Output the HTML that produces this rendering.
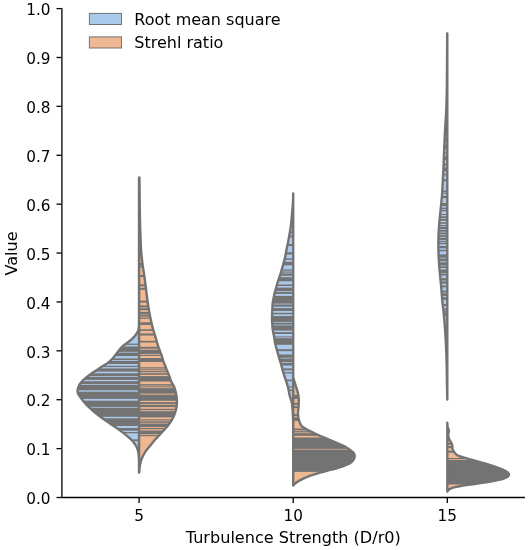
<!DOCTYPE html>
<html lang="en"><head><meta charset="utf-8"><title>Violin plot</title>
<style>html,body{margin:0;padding:0;background:#fff}body{width:529px;height:550px;overflow:hidden}svg{display:block}text{font-family:"DejaVu Sans","Liberation Sans",sans-serif;fill:#000}.t{font-size:15.28px}.l{font-size:16.1px}</style></head><body>
<svg width="529" height="550" viewBox="0 0 529 550">
<rect width="529" height="550" fill="#fff"/>
<g id="violins">
<clipPath id="c1L"><path d="M139.10,177.80 C139.10,225.20 140.78,272.60 139.10,320.00 C139.01,322.67 139.29,325.33 138.80,328.00 C138.58,329.20 138.45,330.40 137.90,331.60 C137.20,333.13 135.92,334.67 134.60,336.20 C133.62,337.33 132.59,338.47 131.30,339.60 C130.31,340.47 129.12,341.33 128.00,342.20 C126.28,343.53 124.20,344.87 122.70,346.20 C120.71,347.97 119.53,349.73 118.10,351.50 C116.67,353.27 115.65,355.03 114.10,356.80 C112.55,358.57 111.03,360.33 108.80,362.10 C106.61,363.83 103.52,365.57 100.90,367.30 C98.22,369.07 95.43,370.83 92.90,372.60 C90.37,374.37 87.78,376.13 85.70,377.90 C83.62,379.67 81.70,381.43 80.40,383.20 C79.10,384.97 78.28,386.73 77.90,388.50 C77.58,390.00 77.39,391.50 77.90,393.00 C78.20,393.87 78.78,394.73 79.30,395.60 C80.37,397.37 81.78,399.13 83.20,400.90 C84.62,402.67 86.03,404.43 87.80,406.20 C89.57,407.97 91.70,409.73 93.80,411.50 C95.90,413.27 98.08,415.03 100.40,416.80 C102.72,418.57 105.14,420.33 107.70,422.10 C110.21,423.83 113.09,425.57 115.60,427.30 C118.16,429.07 120.62,430.83 122.90,432.60 C125.18,434.37 127.32,436.13 129.30,437.90 C130.27,438.77 131.28,439.63 132.10,440.50 C132.95,441.40 133.64,442.30 134.30,443.20 C134.98,444.13 135.58,445.07 136.10,446.00 C136.66,447.00 137.13,448.00 137.50,449.00 C137.93,450.17 138.17,451.33 138.40,452.50 C138.69,454.00 138.78,455.50 138.90,457.00 C139.03,458.67 139.05,460.33 139.10,462.00 C139.19,465.47 139.10,468.93 139.10,472.40 L139.10,472.40 L139.10,177.80 Z"/></clipPath>
<path d="M139.10,177.80 C139.10,225.20 140.78,272.60 139.10,320.00 C139.01,322.67 139.29,325.33 138.80,328.00 C138.58,329.20 138.45,330.40 137.90,331.60 C137.20,333.13 135.92,334.67 134.60,336.20 C133.62,337.33 132.59,338.47 131.30,339.60 C130.31,340.47 129.12,341.33 128.00,342.20 C126.28,343.53 124.20,344.87 122.70,346.20 C120.71,347.97 119.53,349.73 118.10,351.50 C116.67,353.27 115.65,355.03 114.10,356.80 C112.55,358.57 111.03,360.33 108.80,362.10 C106.61,363.83 103.52,365.57 100.90,367.30 C98.22,369.07 95.43,370.83 92.90,372.60 C90.37,374.37 87.78,376.13 85.70,377.90 C83.62,379.67 81.70,381.43 80.40,383.20 C79.10,384.97 78.28,386.73 77.90,388.50 C77.58,390.00 77.39,391.50 77.90,393.00 C78.20,393.87 78.78,394.73 79.30,395.60 C80.37,397.37 81.78,399.13 83.20,400.90 C84.62,402.67 86.03,404.43 87.80,406.20 C89.57,407.97 91.70,409.73 93.80,411.50 C95.90,413.27 98.08,415.03 100.40,416.80 C102.72,418.57 105.14,420.33 107.70,422.10 C110.21,423.83 113.09,425.57 115.60,427.30 C118.16,429.07 120.62,430.83 122.90,432.60 C125.18,434.37 127.32,436.13 129.30,437.90 C130.27,438.77 131.28,439.63 132.10,440.50 C132.95,441.40 133.64,442.30 134.30,443.20 C134.98,444.13 135.58,445.07 136.10,446.00 C136.66,447.00 137.13,448.00 137.50,449.00 C137.93,450.17 138.17,451.33 138.40,452.50 C138.69,454.00 138.78,455.50 138.90,457.00 C139.03,458.67 139.05,460.33 139.10,462.00 C139.19,465.47 139.10,468.93 139.10,472.40 L139.10,472.40 L139.10,177.80 Z" fill="#abc9ea" stroke="none"/>
<g clip-path="url(#c1L)" fill="#737373"><rect x="69.1" y="343.60" width="70.0" height="1.30"/><rect x="69.1" y="346.50" width="70.0" height="5.35"/><rect x="69.1" y="352.65" width="70.0" height="3.45"/><rect x="69.1" y="358.40" width="70.0" height="1.70"/><rect x="69.1" y="361.00" width="70.0" height="3.00"/><rect x="69.1" y="365.80" width="70.0" height="1.30"/><rect x="69.1" y="368.40" width="70.0" height="3.20"/><rect x="69.1" y="373.30" width="70.0" height="2.75"/><rect x="69.1" y="376.85" width="70.0" height="3.05"/><rect x="69.1" y="381.20" width="70.0" height="2.80"/><rect x="69.1" y="384.80" width="70.0" height="5.50"/><rect x="69.1" y="391.70" width="70.0" height="7.20"/><rect x="69.1" y="400.70" width="70.0" height="6.20"/><rect x="69.1" y="407.70" width="70.0" height="9.10"/><rect x="69.1" y="418.30" width="70.0" height="7.70"/><rect x="69.1" y="428.00" width="70.0" height="2.70"/><rect x="69.1" y="432.00" width="70.0" height="1.30"/><rect x="69.1" y="439.40" width="70.0" height="1.70"/></g>
<path d="M139.10,177.80 C139.10,225.20 140.78,272.60 139.10,320.00 C139.01,322.67 139.29,325.33 138.80,328.00 C138.58,329.20 138.45,330.40 137.90,331.60 C137.20,333.13 135.92,334.67 134.60,336.20 C133.62,337.33 132.59,338.47 131.30,339.60 C130.31,340.47 129.12,341.33 128.00,342.20 C126.28,343.53 124.20,344.87 122.70,346.20 C120.71,347.97 119.53,349.73 118.10,351.50 C116.67,353.27 115.65,355.03 114.10,356.80 C112.55,358.57 111.03,360.33 108.80,362.10 C106.61,363.83 103.52,365.57 100.90,367.30 C98.22,369.07 95.43,370.83 92.90,372.60 C90.37,374.37 87.78,376.13 85.70,377.90 C83.62,379.67 81.70,381.43 80.40,383.20 C79.10,384.97 78.28,386.73 77.90,388.50 C77.58,390.00 77.39,391.50 77.90,393.00 C78.20,393.87 78.78,394.73 79.30,395.60 C80.37,397.37 81.78,399.13 83.20,400.90 C84.62,402.67 86.03,404.43 87.80,406.20 C89.57,407.97 91.70,409.73 93.80,411.50 C95.90,413.27 98.08,415.03 100.40,416.80 C102.72,418.57 105.14,420.33 107.70,422.10 C110.21,423.83 113.09,425.57 115.60,427.30 C118.16,429.07 120.62,430.83 122.90,432.60 C125.18,434.37 127.32,436.13 129.30,437.90 C130.27,438.77 131.28,439.63 132.10,440.50 C132.95,441.40 133.64,442.30 134.30,443.20 C134.98,444.13 135.58,445.07 136.10,446.00 C136.66,447.00 137.13,448.00 137.50,449.00 C137.93,450.17 138.17,451.33 138.40,452.50 C138.69,454.00 138.78,455.50 138.90,457.00 C139.03,458.67 139.05,460.33 139.10,462.00 C139.19,465.47 139.10,468.93 139.10,472.40 L139.10,472.40 L139.10,177.80 Z" fill="none" stroke="#737373" stroke-width="2.4" stroke-linejoin="round"/>
<clipPath id="c1R"><path d="M139.30,177.80 C139.40,185.20 139.47,192.60 139.60,200.00 C139.71,206.67 139.83,213.33 140.00,220.00 C140.17,226.67 140.31,233.33 140.60,240.00 C140.74,243.33 140.86,246.67 141.10,250.00 C141.41,254.40 141.85,258.80 142.40,263.20 C142.95,267.63 143.78,272.07 144.40,276.50 C145.01,280.90 145.53,285.30 146.10,289.70 C146.67,294.10 147.15,298.50 147.80,302.90 C148.42,307.13 149.05,311.37 149.90,315.60 C150.30,317.60 150.74,319.60 151.20,321.60 C151.70,323.80 152.20,326.00 152.80,328.20 C153.40,330.40 154.14,332.60 154.80,334.80 C155.47,337.03 156.13,339.27 156.80,341.50 C157.46,343.70 158.03,345.90 158.80,348.10 C159.57,350.30 160.63,352.50 161.40,354.70 C162.17,356.90 162.63,359.10 163.40,361.30 C164.17,363.50 165.12,365.70 166.00,367.90 C166.88,370.10 167.86,372.30 168.70,374.50 C169.56,376.73 170.08,378.97 171.10,381.20 C171.92,383.00 173.22,384.80 174.00,386.60 C174.95,388.80 175.52,391.00 176.00,393.20 C176.48,395.40 176.80,397.60 176.90,399.80 C177.00,402.03 176.92,404.27 176.60,406.50 C176.28,408.70 175.77,410.90 175.00,413.10 C174.23,415.30 173.27,417.50 172.00,419.70 C170.73,421.90 169.17,424.10 167.40,426.30 C165.63,428.50 163.43,430.70 161.40,432.90 C159.37,435.10 157.13,437.30 155.20,439.50 C153.38,441.57 151.78,443.63 150.10,445.70 C148.58,447.57 146.86,449.43 145.60,451.30 C144.32,453.20 143.35,455.10 142.50,457.00 C141.65,458.90 141.02,460.80 140.50,462.70 C139.99,464.57 139.63,466.43 139.40,468.30 C139.23,469.67 139.20,471.03 139.10,472.40 L139.10,472.40 L139.10,177.80 Z"/></clipPath>
<path d="M139.30,177.80 C139.40,185.20 139.47,192.60 139.60,200.00 C139.71,206.67 139.83,213.33 140.00,220.00 C140.17,226.67 140.31,233.33 140.60,240.00 C140.74,243.33 140.86,246.67 141.10,250.00 C141.41,254.40 141.85,258.80 142.40,263.20 C142.95,267.63 143.78,272.07 144.40,276.50 C145.01,280.90 145.53,285.30 146.10,289.70 C146.67,294.10 147.15,298.50 147.80,302.90 C148.42,307.13 149.05,311.37 149.90,315.60 C150.30,317.60 150.74,319.60 151.20,321.60 C151.70,323.80 152.20,326.00 152.80,328.20 C153.40,330.40 154.14,332.60 154.80,334.80 C155.47,337.03 156.13,339.27 156.80,341.50 C157.46,343.70 158.03,345.90 158.80,348.10 C159.57,350.30 160.63,352.50 161.40,354.70 C162.17,356.90 162.63,359.10 163.40,361.30 C164.17,363.50 165.12,365.70 166.00,367.90 C166.88,370.10 167.86,372.30 168.70,374.50 C169.56,376.73 170.08,378.97 171.10,381.20 C171.92,383.00 173.22,384.80 174.00,386.60 C174.95,388.80 175.52,391.00 176.00,393.20 C176.48,395.40 176.80,397.60 176.90,399.80 C177.00,402.03 176.92,404.27 176.60,406.50 C176.28,408.70 175.77,410.90 175.00,413.10 C174.23,415.30 173.27,417.50 172.00,419.70 C170.73,421.90 169.17,424.10 167.40,426.30 C165.63,428.50 163.43,430.70 161.40,432.90 C159.37,435.10 157.13,437.30 155.20,439.50 C153.38,441.57 151.78,443.63 150.10,445.70 C148.58,447.57 146.86,449.43 145.60,451.30 C144.32,453.20 143.35,455.10 142.50,457.00 C141.65,458.90 141.02,460.80 140.50,462.70 C139.99,464.57 139.63,466.43 139.40,468.30 C139.23,469.67 139.20,471.03 139.10,472.40 L139.10,472.40 L139.10,177.80 Z" fill="#efb792" stroke="none"/>
<g clip-path="url(#c1R)" fill="#737373"><rect x="139.1" y="263.00" width="70.0" height="2.00"/><rect x="139.1" y="265.50" width="70.0" height="2.00"/><rect x="139.1" y="275.00" width="70.0" height="2.00"/><rect x="139.1" y="284.30" width="70.0" height="2.00"/><rect x="139.1" y="287.80" width="70.0" height="2.00"/><rect x="139.1" y="300.60" width="70.0" height="2.00"/><rect x="139.1" y="305.40" width="70.0" height="2.00"/><rect x="139.1" y="308.20" width="70.0" height="2.00"/><rect x="139.1" y="311.90" width="70.0" height="2.00"/><rect x="139.1" y="314.50" width="70.0" height="2.00"/><rect x="139.1" y="317.40" width="70.0" height="1.30"/><rect x="139.1" y="322.30" width="70.0" height="2.60"/><rect x="139.1" y="329.30" width="70.0" height="1.60"/><rect x="139.1" y="333.50" width="70.0" height="2.00"/><rect x="139.1" y="340.80" width="70.0" height="1.70"/><rect x="139.1" y="346.80" width="70.0" height="1.90"/><rect x="139.1" y="349.70" width="70.0" height="4.40"/><rect x="139.1" y="354.90" width="70.0" height="1.10"/><rect x="139.1" y="358.00" width="70.0" height="4.00"/><rect x="139.1" y="367.30" width="70.0" height="1.20"/><rect x="139.1" y="369.30" width="70.0" height="1.00"/><rect x="139.1" y="371.10" width="70.0" height="1.10"/><rect x="139.1" y="373.20" width="70.0" height="1.60"/><rect x="139.1" y="376.10" width="70.0" height="5.40"/><rect x="139.1" y="384.20" width="70.0" height="1.40"/><rect x="139.1" y="386.40" width="70.0" height="0.95"/><rect x="139.1" y="388.15" width="70.0" height="5.45"/><rect x="139.1" y="394.60" width="70.0" height="6.20"/><rect x="139.1" y="402.10" width="70.0" height="1.85"/><rect x="139.1" y="404.75" width="70.0" height="2.35"/><rect x="139.1" y="408.80" width="70.0" height="1.40"/><rect x="139.1" y="411.20" width="70.0" height="6.20"/><rect x="139.1" y="419.30" width="70.0" height="1.15"/><rect x="139.1" y="421.25" width="70.0" height="1.50"/><rect x="139.1" y="423.55" width="70.0" height="3.45"/><rect x="139.1" y="427.90" width="70.0" height="1.30"/><rect x="139.1" y="430.50" width="70.0" height="3.75"/><rect x="139.1" y="435.05" width="70.0" height="1.15"/></g>
<path d="M139.30,177.80 C139.40,185.20 139.47,192.60 139.60,200.00 C139.71,206.67 139.83,213.33 140.00,220.00 C140.17,226.67 140.31,233.33 140.60,240.00 C140.74,243.33 140.86,246.67 141.10,250.00 C141.41,254.40 141.85,258.80 142.40,263.20 C142.95,267.63 143.78,272.07 144.40,276.50 C145.01,280.90 145.53,285.30 146.10,289.70 C146.67,294.10 147.15,298.50 147.80,302.90 C148.42,307.13 149.05,311.37 149.90,315.60 C150.30,317.60 150.74,319.60 151.20,321.60 C151.70,323.80 152.20,326.00 152.80,328.20 C153.40,330.40 154.14,332.60 154.80,334.80 C155.47,337.03 156.13,339.27 156.80,341.50 C157.46,343.70 158.03,345.90 158.80,348.10 C159.57,350.30 160.63,352.50 161.40,354.70 C162.17,356.90 162.63,359.10 163.40,361.30 C164.17,363.50 165.12,365.70 166.00,367.90 C166.88,370.10 167.86,372.30 168.70,374.50 C169.56,376.73 170.08,378.97 171.10,381.20 C171.92,383.00 173.22,384.80 174.00,386.60 C174.95,388.80 175.52,391.00 176.00,393.20 C176.48,395.40 176.80,397.60 176.90,399.80 C177.00,402.03 176.92,404.27 176.60,406.50 C176.28,408.70 175.77,410.90 175.00,413.10 C174.23,415.30 173.27,417.50 172.00,419.70 C170.73,421.90 169.17,424.10 167.40,426.30 C165.63,428.50 163.43,430.70 161.40,432.90 C159.37,435.10 157.13,437.30 155.20,439.50 C153.38,441.57 151.78,443.63 150.10,445.70 C148.58,447.57 146.86,449.43 145.60,451.30 C144.32,453.20 143.35,455.10 142.50,457.00 C141.65,458.90 141.02,460.80 140.50,462.70 C139.99,464.57 139.63,466.43 139.40,468.30 C139.23,469.67 139.20,471.03 139.10,472.40 L139.10,472.40 L139.10,177.80 Z" fill="none" stroke="#737373" stroke-width="2.4" stroke-linejoin="round"/>
<clipPath id="c2L"><path d="M293.20,193.50 C293.17,195.67 293.18,197.83 293.10,200.00 C292.94,204.40 292.48,208.80 292.10,213.20 C291.72,217.63 291.40,222.07 290.80,226.50 C290.20,230.90 289.32,235.30 288.50,239.70 C287.68,244.10 286.77,248.50 285.90,252.90 C285.50,254.93 285.18,256.97 284.70,259.00 C284.22,261.03 283.56,263.07 283.00,265.10 C282.30,267.63 281.68,270.17 280.90,272.70 C280.12,275.23 279.10,277.77 278.30,280.30 C277.51,282.80 276.80,285.30 276.10,287.80 C275.39,290.33 274.67,292.87 274.10,295.40 C273.53,297.93 273.00,300.47 272.70,303.00 C272.40,305.50 272.42,308.00 272.30,310.50 C272.18,313.03 271.99,315.57 272.00,318.10 C272.01,320.73 272.18,323.37 272.40,326.00 C272.51,327.33 272.61,328.67 272.80,330.00 C273.04,331.70 273.49,333.40 273.80,335.10 C274.26,337.63 274.47,340.17 275.00,342.70 C275.53,345.23 276.31,347.77 277.00,350.30 C277.68,352.80 278.37,355.30 279.10,357.80 C279.84,360.33 280.68,362.87 281.40,365.40 C282.12,367.93 282.64,370.47 283.40,373.00 C284.15,375.50 285.10,378.00 285.90,380.50 C286.71,383.03 287.56,385.57 288.20,388.10 C288.87,390.73 289.10,393.37 289.80,396.00 C290.33,398.00 291.24,400.00 291.70,402.00 C292.31,404.67 292.37,407.33 292.60,410.00 C292.82,412.67 292.95,415.33 293.05,418.00 C293.13,420.00 293.15,422.00 293.20,424.00 L293.20,424.00 L293.20,193.50 Z"/></clipPath>
<path d="M293.20,193.50 C293.17,195.67 293.18,197.83 293.10,200.00 C292.94,204.40 292.48,208.80 292.10,213.20 C291.72,217.63 291.40,222.07 290.80,226.50 C290.20,230.90 289.32,235.30 288.50,239.70 C287.68,244.10 286.77,248.50 285.90,252.90 C285.50,254.93 285.18,256.97 284.70,259.00 C284.22,261.03 283.56,263.07 283.00,265.10 C282.30,267.63 281.68,270.17 280.90,272.70 C280.12,275.23 279.10,277.77 278.30,280.30 C277.51,282.80 276.80,285.30 276.10,287.80 C275.39,290.33 274.67,292.87 274.10,295.40 C273.53,297.93 273.00,300.47 272.70,303.00 C272.40,305.50 272.42,308.00 272.30,310.50 C272.18,313.03 271.99,315.57 272.00,318.10 C272.01,320.73 272.18,323.37 272.40,326.00 C272.51,327.33 272.61,328.67 272.80,330.00 C273.04,331.70 273.49,333.40 273.80,335.10 C274.26,337.63 274.47,340.17 275.00,342.70 C275.53,345.23 276.31,347.77 277.00,350.30 C277.68,352.80 278.37,355.30 279.10,357.80 C279.84,360.33 280.68,362.87 281.40,365.40 C282.12,367.93 282.64,370.47 283.40,373.00 C284.15,375.50 285.10,378.00 285.90,380.50 C286.71,383.03 287.56,385.57 288.20,388.10 C288.87,390.73 289.10,393.37 289.80,396.00 C290.33,398.00 291.24,400.00 291.70,402.00 C292.31,404.67 292.37,407.33 292.60,410.00 C292.82,412.67 292.95,415.33 293.05,418.00 C293.13,420.00 293.15,422.00 293.20,424.00 L293.20,424.00 L293.20,193.50 Z" fill="#abc9ea" stroke="none"/>
<g clip-path="url(#c2L)" fill="#737373"><rect x="223.2" y="231.40" width="70.0" height="2.00"/><rect x="223.2" y="235.40" width="70.0" height="2.00"/><rect x="223.2" y="244.00" width="70.0" height="2.00"/><rect x="223.2" y="252.30" width="70.0" height="2.20"/><rect x="223.2" y="258.30" width="70.0" height="1.50"/><rect x="223.2" y="261.80" width="70.0" height="3.50"/><rect x="223.2" y="269.40" width="70.0" height="1.30"/><rect x="223.2" y="271.50" width="70.0" height="1.15"/><rect x="223.2" y="273.45" width="70.0" height="2.35"/><rect x="223.2" y="277.20" width="70.0" height="4.10"/><rect x="223.2" y="284.50" width="70.0" height="1.50"/><rect x="223.2" y="287.60" width="70.0" height="3.40"/><rect x="223.2" y="291.80" width="70.0" height="2.10"/><rect x="223.2" y="295.90" width="70.0" height="7.75"/><rect x="223.2" y="304.45" width="70.0" height="2.25"/><rect x="223.2" y="308.10" width="70.0" height="2.90"/><rect x="223.2" y="312.80" width="70.0" height="1.50"/><rect x="223.2" y="316.00" width="70.0" height="5.90"/><rect x="223.2" y="322.70" width="70.0" height="1.90"/><rect x="223.2" y="325.40" width="70.0" height="5.20"/><rect x="223.2" y="332.10" width="70.0" height="1.90"/><rect x="223.2" y="336.40" width="70.0" height="0.95"/><rect x="223.2" y="338.15" width="70.0" height="6.65"/><rect x="223.2" y="349.20" width="70.0" height="2.00"/><rect x="223.2" y="354.50" width="70.0" height="3.25"/><rect x="223.2" y="358.55" width="70.0" height="3.60"/><rect x="223.2" y="362.95" width="70.0" height="2.55"/><rect x="223.2" y="368.40" width="70.0" height="2.00"/><rect x="223.2" y="372.10" width="70.0" height="1.30"/><rect x="223.2" y="379.60" width="70.0" height="1.60"/><rect x="223.2" y="386.40" width="70.0" height="1.20"/><rect x="223.2" y="389.50" width="70.0" height="1.50"/></g>
<path d="M293.20,193.50 C293.17,195.67 293.18,197.83 293.10,200.00 C292.94,204.40 292.48,208.80 292.10,213.20 C291.72,217.63 291.40,222.07 290.80,226.50 C290.20,230.90 289.32,235.30 288.50,239.70 C287.68,244.10 286.77,248.50 285.90,252.90 C285.50,254.93 285.18,256.97 284.70,259.00 C284.22,261.03 283.56,263.07 283.00,265.10 C282.30,267.63 281.68,270.17 280.90,272.70 C280.12,275.23 279.10,277.77 278.30,280.30 C277.51,282.80 276.80,285.30 276.10,287.80 C275.39,290.33 274.67,292.87 274.10,295.40 C273.53,297.93 273.00,300.47 272.70,303.00 C272.40,305.50 272.42,308.00 272.30,310.50 C272.18,313.03 271.99,315.57 272.00,318.10 C272.01,320.73 272.18,323.37 272.40,326.00 C272.51,327.33 272.61,328.67 272.80,330.00 C273.04,331.70 273.49,333.40 273.80,335.10 C274.26,337.63 274.47,340.17 275.00,342.70 C275.53,345.23 276.31,347.77 277.00,350.30 C277.68,352.80 278.37,355.30 279.10,357.80 C279.84,360.33 280.68,362.87 281.40,365.40 C282.12,367.93 282.64,370.47 283.40,373.00 C284.15,375.50 285.10,378.00 285.90,380.50 C286.71,383.03 287.56,385.57 288.20,388.10 C288.87,390.73 289.10,393.37 289.80,396.00 C290.33,398.00 291.24,400.00 291.70,402.00 C292.31,404.67 292.37,407.33 292.60,410.00 C292.82,412.67 292.95,415.33 293.05,418.00 C293.13,420.00 293.15,422.00 293.20,424.00 L293.20,424.00 L293.20,193.50 Z" fill="none" stroke="#737373" stroke-width="2.4" stroke-linejoin="round"/>
<clipPath id="c2R"><path d="M293.20,378.00 C293.43,378.67 293.67,379.33 293.90,380.00 C294.65,382.20 295.32,384.40 296.00,386.60 C296.68,388.80 297.53,391.00 298.00,393.20 C298.47,395.40 298.70,397.60 298.80,399.80 C298.90,402.03 298.74,404.27 298.60,406.50 C298.47,408.70 297.97,410.90 298.00,413.10 C298.02,414.87 298.12,416.63 298.50,418.40 C298.82,419.87 299.21,421.33 299.90,422.80 C300.50,424.07 300.71,425.33 302.20,426.60 C303.65,427.83 306.31,429.07 308.60,430.30 C311.26,431.73 314.05,433.17 317.20,434.60 C320.35,436.03 324.09,437.47 327.50,438.90 C330.83,440.30 334.17,441.70 337.40,443.10 C339.70,444.10 342.30,445.10 344.20,446.10 C345.79,446.93 346.96,447.77 348.20,448.60 C350.08,449.87 352.12,451.13 353.20,452.40 C354.22,453.60 354.62,454.80 354.70,456.00 C354.78,457.20 354.47,458.40 353.70,459.60 C352.95,460.77 352.18,461.93 350.20,463.10 C348.27,464.23 345.34,465.37 342.10,466.50 C339.05,467.57 335.28,468.63 331.50,469.70 C327.95,470.70 323.72,471.70 320.20,472.70 C316.68,473.70 313.27,474.70 310.40,475.70 C307.44,476.73 305.00,477.77 302.80,478.80 C300.74,479.77 298.94,480.73 297.50,481.70 C296.36,482.47 295.51,483.23 294.70,484.00 C294.14,484.53 293.70,485.07 293.20,485.60 L293.20,485.60 L293.20,378.00 Z"/></clipPath>
<path d="M293.20,378.00 C293.43,378.67 293.67,379.33 293.90,380.00 C294.65,382.20 295.32,384.40 296.00,386.60 C296.68,388.80 297.53,391.00 298.00,393.20 C298.47,395.40 298.70,397.60 298.80,399.80 C298.90,402.03 298.74,404.27 298.60,406.50 C298.47,408.70 297.97,410.90 298.00,413.10 C298.02,414.87 298.12,416.63 298.50,418.40 C298.82,419.87 299.21,421.33 299.90,422.80 C300.50,424.07 300.71,425.33 302.20,426.60 C303.65,427.83 306.31,429.07 308.60,430.30 C311.26,431.73 314.05,433.17 317.20,434.60 C320.35,436.03 324.09,437.47 327.50,438.90 C330.83,440.30 334.17,441.70 337.40,443.10 C339.70,444.10 342.30,445.10 344.20,446.10 C345.79,446.93 346.96,447.77 348.20,448.60 C350.08,449.87 352.12,451.13 353.20,452.40 C354.22,453.60 354.62,454.80 354.70,456.00 C354.78,457.20 354.47,458.40 353.70,459.60 C352.95,460.77 352.18,461.93 350.20,463.10 C348.27,464.23 345.34,465.37 342.10,466.50 C339.05,467.57 335.28,468.63 331.50,469.70 C327.95,470.70 323.72,471.70 320.20,472.70 C316.68,473.70 313.27,474.70 310.40,475.70 C307.44,476.73 305.00,477.77 302.80,478.80 C300.74,479.77 298.94,480.73 297.50,481.70 C296.36,482.47 295.51,483.23 294.70,484.00 C294.14,484.53 293.70,485.07 293.20,485.60 L293.20,485.60 L293.20,378.00 Z" fill="#efb792" stroke="none"/>
<g clip-path="url(#c2R)" fill="#737373"><rect x="293.2" y="394.90" width="70.0" height="2.00"/><rect x="293.2" y="396.90" width="70.0" height="2.00"/><rect x="293.2" y="402.80" width="70.0" height="2.00"/><rect x="293.2" y="406.10" width="70.0" height="2.00"/><rect x="293.2" y="414.10" width="70.0" height="2.00"/><rect x="293.2" y="417.40" width="70.0" height="2.00"/><rect x="293.2" y="418.90" width="70.0" height="2.00"/><rect x="293.2" y="428.50" width="70.0" height="1.85"/><rect x="293.2" y="431.15" width="70.0" height="1.25"/><rect x="293.2" y="433.20" width="70.0" height="2.60"/><rect x="293.2" y="437.50" width="70.0" height="11.40"/><rect x="293.2" y="449.55" width="70.0" height="22.35"/></g>
<path d="M293.20,378.00 C293.43,378.67 293.67,379.33 293.90,380.00 C294.65,382.20 295.32,384.40 296.00,386.60 C296.68,388.80 297.53,391.00 298.00,393.20 C298.47,395.40 298.70,397.60 298.80,399.80 C298.90,402.03 298.74,404.27 298.60,406.50 C298.47,408.70 297.97,410.90 298.00,413.10 C298.02,414.87 298.12,416.63 298.50,418.40 C298.82,419.87 299.21,421.33 299.90,422.80 C300.50,424.07 300.71,425.33 302.20,426.60 C303.65,427.83 306.31,429.07 308.60,430.30 C311.26,431.73 314.05,433.17 317.20,434.60 C320.35,436.03 324.09,437.47 327.50,438.90 C330.83,440.30 334.17,441.70 337.40,443.10 C339.70,444.10 342.30,445.10 344.20,446.10 C345.79,446.93 346.96,447.77 348.20,448.60 C350.08,449.87 352.12,451.13 353.20,452.40 C354.22,453.60 354.62,454.80 354.70,456.00 C354.78,457.20 354.47,458.40 353.70,459.60 C352.95,460.77 352.18,461.93 350.20,463.10 C348.27,464.23 345.34,465.37 342.10,466.50 C339.05,467.57 335.28,468.63 331.50,469.70 C327.95,470.70 323.72,471.70 320.20,472.70 C316.68,473.70 313.27,474.70 310.40,475.70 C307.44,476.73 305.00,477.77 302.80,478.80 C300.74,479.77 298.94,480.73 297.50,481.70 C296.36,482.47 295.51,483.23 294.70,484.00 C294.14,484.53 293.70,485.07 293.20,485.60 L293.20,485.60 L293.20,378.00 Z" fill="none" stroke="#737373" stroke-width="2.4" stroke-linejoin="round"/>
<clipPath id="c3L"><path d="M447.20,33.50 C447.13,45.67 447.12,57.83 447.00,70.00 C446.90,80.00 446.91,90.00 446.60,100.00 C446.47,104.33 446.32,108.67 446.10,113.00 C445.88,117.33 445.54,121.67 445.30,126.00 C445.04,130.57 444.82,135.13 444.60,139.70 C444.39,144.13 444.18,148.57 444.00,153.00 C443.77,158.67 443.66,164.33 443.40,170.00 C443.20,174.40 442.95,178.80 442.70,183.20 C442.45,187.63 442.25,192.07 441.90,196.50 C441.55,200.90 441.03,205.30 440.60,209.70 C440.17,214.10 439.65,218.50 439.30,222.90 C438.95,227.33 438.65,231.77 438.50,236.20 C438.37,240.20 438.35,244.20 438.40,248.20 C438.46,252.63 438.63,257.07 438.90,261.50 C439.17,265.90 439.60,270.30 440.00,274.70 C440.40,279.10 440.92,283.50 441.30,287.90 C441.69,292.33 441.87,296.77 442.30,301.20 C442.69,305.20 443.30,309.20 443.70,313.20 C444.15,317.63 444.47,322.07 444.80,326.50 C445.13,330.90 445.45,335.30 445.70,339.70 C445.95,344.10 446.13,348.50 446.30,352.90 C446.47,357.33 446.59,361.77 446.70,366.20 C446.85,372.47 446.88,378.73 447.00,385.00 C447.09,389.83 447.20,394.67 447.30,399.50 L447.30,399.50 L447.30,33.50 Z"/></clipPath>
<path d="M447.20,33.50 C447.13,45.67 447.12,57.83 447.00,70.00 C446.90,80.00 446.91,90.00 446.60,100.00 C446.47,104.33 446.32,108.67 446.10,113.00 C445.88,117.33 445.54,121.67 445.30,126.00 C445.04,130.57 444.82,135.13 444.60,139.70 C444.39,144.13 444.18,148.57 444.00,153.00 C443.77,158.67 443.66,164.33 443.40,170.00 C443.20,174.40 442.95,178.80 442.70,183.20 C442.45,187.63 442.25,192.07 441.90,196.50 C441.55,200.90 441.03,205.30 440.60,209.70 C440.17,214.10 439.65,218.50 439.30,222.90 C438.95,227.33 438.65,231.77 438.50,236.20 C438.37,240.20 438.35,244.20 438.40,248.20 C438.46,252.63 438.63,257.07 438.90,261.50 C439.17,265.90 439.60,270.30 440.00,274.70 C440.40,279.10 440.92,283.50 441.30,287.90 C441.69,292.33 441.87,296.77 442.30,301.20 C442.69,305.20 443.30,309.20 443.70,313.20 C444.15,317.63 444.47,322.07 444.80,326.50 C445.13,330.90 445.45,335.30 445.70,339.70 C445.95,344.10 446.13,348.50 446.30,352.90 C446.47,357.33 446.59,361.77 446.70,366.20 C446.85,372.47 446.88,378.73 447.00,385.00 C447.09,389.83 447.20,394.67 447.30,399.50 L447.30,399.50 L447.30,33.50 Z" fill="#abc9ea" stroke="none"/>
<g clip-path="url(#c3L)" fill="#737373"><rect x="377.3" y="128.00" width="70.0" height="6.40"/><rect x="377.3" y="138.40" width="70.0" height="2.60"/><rect x="377.3" y="145.00" width="70.0" height="4.00"/><rect x="377.3" y="152.30" width="70.0" height="1.30"/><rect x="377.3" y="156.20" width="70.0" height="4.00"/><rect x="377.3" y="163.50" width="70.0" height="2.00"/><rect x="377.3" y="167.50" width="70.0" height="3.80"/><rect x="377.3" y="174.00" width="70.0" height="1.30"/><rect x="377.3" y="179.30" width="70.0" height="2.00"/><rect x="377.3" y="190.70" width="70.0" height="1.70"/><rect x="377.3" y="193.20" width="70.0" height="0.70"/><rect x="377.3" y="195.90" width="70.0" height="2.20"/><rect x="377.3" y="203.00" width="70.0" height="3.00"/><rect x="377.3" y="207.60" width="70.0" height="1.40"/><rect x="377.3" y="209.80" width="70.0" height="1.50"/><rect x="377.3" y="214.00" width="70.0" height="1.10"/><rect x="377.3" y="216.30" width="70.0" height="1.80"/><rect x="377.3" y="218.90" width="70.0" height="1.90"/><rect x="377.3" y="222.30" width="70.0" height="1.50"/><rect x="377.3" y="225.00" width="70.0" height="1.10"/><rect x="377.3" y="226.80" width="70.0" height="2.20"/><rect x="377.3" y="229.80" width="70.0" height="1.90"/><rect x="377.3" y="232.50" width="70.0" height="1.90"/><rect x="377.3" y="235.20" width="70.0" height="1.75"/><rect x="377.3" y="237.75" width="70.0" height="2.50"/><rect x="377.3" y="241.05" width="70.0" height="0.85"/><rect x="377.3" y="242.70" width="70.0" height="1.50"/><rect x="377.3" y="246.00" width="70.0" height="2.30"/><rect x="377.3" y="249.80" width="70.0" height="1.50"/><rect x="377.3" y="254.40" width="70.0" height="3.35"/><rect x="377.3" y="258.55" width="70.0" height="2.65"/><rect x="377.3" y="262.30" width="70.0" height="3.20"/><rect x="377.3" y="266.30" width="70.0" height="1.70"/><rect x="377.3" y="269.50" width="70.0" height="3.40"/><rect x="377.3" y="273.60" width="70.0" height="1.90"/><rect x="377.3" y="278.20" width="70.0" height="2.40"/><rect x="377.3" y="281.40" width="70.0" height="2.30"/><rect x="377.3" y="285.50" width="70.0" height="1.80"/><rect x="377.3" y="290.60" width="70.0" height="1.90"/><rect x="377.3" y="293.30" width="70.0" height="2.60"/><rect x="377.3" y="297.20" width="70.0" height="2.60"/><rect x="377.3" y="304.00" width="70.0" height="2.00"/><rect x="377.3" y="308.60" width="70.0" height="1.50"/><rect x="377.3" y="310.90" width="70.0" height="1.70"/><rect x="377.3" y="313.20" width="70.0" height="2.70"/><rect x="377.3" y="319.50" width="70.0" height="0.80"/><rect x="377.3" y="325.10" width="70.0" height="1.65"/><rect x="377.3" y="327.55" width="70.0" height="3.15"/><rect x="377.3" y="331.50" width="70.0" height="67.50"/></g>
<path d="M447.20,33.50 C447.13,45.67 447.12,57.83 447.00,70.00 C446.90,80.00 446.91,90.00 446.60,100.00 C446.47,104.33 446.32,108.67 446.10,113.00 C445.88,117.33 445.54,121.67 445.30,126.00 C445.04,130.57 444.82,135.13 444.60,139.70 C444.39,144.13 444.18,148.57 444.00,153.00 C443.77,158.67 443.66,164.33 443.40,170.00 C443.20,174.40 442.95,178.80 442.70,183.20 C442.45,187.63 442.25,192.07 441.90,196.50 C441.55,200.90 441.03,205.30 440.60,209.70 C440.17,214.10 439.65,218.50 439.30,222.90 C438.95,227.33 438.65,231.77 438.50,236.20 C438.37,240.20 438.35,244.20 438.40,248.20 C438.46,252.63 438.63,257.07 438.90,261.50 C439.17,265.90 439.60,270.30 440.00,274.70 C440.40,279.10 440.92,283.50 441.30,287.90 C441.69,292.33 441.87,296.77 442.30,301.20 C442.69,305.20 443.30,309.20 443.70,313.20 C444.15,317.63 444.47,322.07 444.80,326.50 C445.13,330.90 445.45,335.30 445.70,339.70 C445.95,344.10 446.13,348.50 446.30,352.90 C446.47,357.33 446.59,361.77 446.70,366.20 C446.85,372.47 446.88,378.73 447.00,385.00 C447.09,389.83 447.20,394.67 447.30,399.50 L447.30,399.50 L447.30,33.50 Z" fill="none" stroke="#737373" stroke-width="2.4" stroke-linejoin="round"/>
<clipPath id="c3R"><path d="M447.30,422.80 C447.50,424.53 447.31,426.27 447.90,428.00 C448.14,428.70 448.62,429.40 448.80,430.10 C449.20,431.63 448.23,433.17 448.30,434.70 C448.37,436.20 448.54,437.70 449.20,439.20 C449.64,440.20 450.50,441.20 451.00,442.20 C451.50,443.20 451.91,444.20 452.20,445.20 C452.65,446.73 452.10,448.27 452.80,449.80 C453.25,450.80 453.86,451.80 454.80,452.80 C455.77,453.83 456.01,454.87 458.60,455.90 C460.44,456.63 463.60,457.37 466.10,458.10 C469.63,459.13 473.11,460.17 476.70,461.20 C480.18,462.20 484.02,463.20 487.30,464.20 C490.58,465.20 493.59,466.20 496.40,467.20 C498.83,468.07 501.34,468.93 503.20,469.80 C505.13,470.70 506.74,471.60 507.70,472.50 C508.34,473.10 508.79,473.70 508.90,474.30 C509.06,475.13 508.89,475.97 507.70,476.80 C506.60,477.57 505.03,478.33 502.40,479.10 C499.77,479.87 496.18,480.63 491.90,481.40 C487.62,482.17 482.17,482.93 476.70,483.70 C472.42,484.30 466.83,484.90 463.10,485.50 C459.17,486.13 456.29,486.77 454.00,487.40 C451.83,488.00 450.54,488.60 449.50,489.20 C448.57,489.73 448.21,490.27 447.80,490.80 C447.59,491.07 447.47,491.33 447.30,491.60 L447.30,491.60 L447.30,422.80 Z"/></clipPath>
<path d="M447.30,422.80 C447.50,424.53 447.31,426.27 447.90,428.00 C448.14,428.70 448.62,429.40 448.80,430.10 C449.20,431.63 448.23,433.17 448.30,434.70 C448.37,436.20 448.54,437.70 449.20,439.20 C449.64,440.20 450.50,441.20 451.00,442.20 C451.50,443.20 451.91,444.20 452.20,445.20 C452.65,446.73 452.10,448.27 452.80,449.80 C453.25,450.80 453.86,451.80 454.80,452.80 C455.77,453.83 456.01,454.87 458.60,455.90 C460.44,456.63 463.60,457.37 466.10,458.10 C469.63,459.13 473.11,460.17 476.70,461.20 C480.18,462.20 484.02,463.20 487.30,464.20 C490.58,465.20 493.59,466.20 496.40,467.20 C498.83,468.07 501.34,468.93 503.20,469.80 C505.13,470.70 506.74,471.60 507.70,472.50 C508.34,473.10 508.79,473.70 508.90,474.30 C509.06,475.13 508.89,475.97 507.70,476.80 C506.60,477.57 505.03,478.33 502.40,479.10 C499.77,479.87 496.18,480.63 491.90,481.40 C487.62,482.17 482.17,482.93 476.70,483.70 C472.42,484.30 466.83,484.90 463.10,485.50 C459.17,486.13 456.29,486.77 454.00,487.40 C451.83,488.00 450.54,488.60 449.50,489.20 C448.57,489.73 448.21,490.27 447.80,490.80 C447.59,491.07 447.47,491.33 447.30,491.60 L447.30,491.60 L447.30,422.80 Z" fill="#efb792" stroke="none"/>
<g clip-path="url(#c3R)" fill="#737373"><rect x="447.3" y="442.70" width="70.0" height="2.00"/><rect x="447.3" y="446.10" width="70.0" height="2.00"/><rect x="447.3" y="450.70" width="70.0" height="2.00"/><rect x="447.3" y="458.00" width="70.0" height="1.00"/><rect x="447.3" y="459.80" width="70.0" height="24.70"/></g>
<path d="M447.30,422.80 C447.50,424.53 447.31,426.27 447.90,428.00 C448.14,428.70 448.62,429.40 448.80,430.10 C449.20,431.63 448.23,433.17 448.30,434.70 C448.37,436.20 448.54,437.70 449.20,439.20 C449.64,440.20 450.50,441.20 451.00,442.20 C451.50,443.20 451.91,444.20 452.20,445.20 C452.65,446.73 452.10,448.27 452.80,449.80 C453.25,450.80 453.86,451.80 454.80,452.80 C455.77,453.83 456.01,454.87 458.60,455.90 C460.44,456.63 463.60,457.37 466.10,458.10 C469.63,459.13 473.11,460.17 476.70,461.20 C480.18,462.20 484.02,463.20 487.30,464.20 C490.58,465.20 493.59,466.20 496.40,467.20 C498.83,468.07 501.34,468.93 503.20,469.80 C505.13,470.70 506.74,471.60 507.70,472.50 C508.34,473.10 508.79,473.70 508.90,474.30 C509.06,475.13 508.89,475.97 507.70,476.80 C506.60,477.57 505.03,478.33 502.40,479.10 C499.77,479.87 496.18,480.63 491.90,481.40 C487.62,482.17 482.17,482.93 476.70,483.70 C472.42,484.30 466.83,484.90 463.10,485.50 C459.17,486.13 456.29,486.77 454.00,487.40 C451.83,488.00 450.54,488.60 449.50,489.20 C448.57,489.73 448.21,490.27 447.80,490.80 C447.59,491.07 447.47,491.33 447.30,491.60 L447.30,491.60 L447.30,422.80 Z" fill="none" stroke="#737373" stroke-width="2.4" stroke-linejoin="round"/>
</g>
<g id="axes" stroke="#000" stroke-width="1.3" fill="none">
<path d="M61.90,8.05 V497.50 H524.90"/>
<path d="M61.40,497.50 h-4.9"/>
<path d="M61.40,448.61 h-4.9"/>
<path d="M61.40,399.72 h-4.9"/>
<path d="M61.40,350.83 h-4.9"/>
<path d="M61.40,301.94 h-4.9"/>
<path d="M61.40,253.05 h-4.9"/>
<path d="M61.40,204.16 h-4.9"/>
<path d="M61.40,155.27 h-4.9"/>
<path d="M61.40,106.38 h-4.9"/>
<path d="M61.40,57.49 h-4.9"/>
<path d="M61.40,8.60 h-4.9"/>
<path d="M139.10,498.00 v4.9"/>
<path d="M293.20,498.00 v4.9"/>
<path d="M447.30,498.00 v4.9"/>
</g>
<g class="t" text-anchor="end">
<text x="50.5" y="504.20">0.0</text>
<text x="50.5" y="455.31">0.1</text>
<text x="50.5" y="406.42">0.2</text>
<text x="50.5" y="357.53">0.3</text>
<text x="50.5" y="308.64">0.4</text>
<text x="50.5" y="259.75">0.5</text>
<text x="50.5" y="210.86">0.6</text>
<text x="50.5" y="161.97">0.7</text>
<text x="50.5" y="113.08">0.8</text>
<text x="50.5" y="64.19">0.9</text>
<text x="50.5" y="15.30">1.0</text>
</g>
<g class="t" text-anchor="middle">
<text x="139.10" y="520.6">5</text>
<text x="293.20" y="520.6">10</text>
<text x="447.30" y="520.6">15</text>
</g>
<text class="l" text-anchor="middle" x="293.3" y="542.5">Turbulence Strength (D/r0)</text>
<text class="l" text-anchor="middle" transform="translate(16.5,253.5) rotate(-90)">Value</text>
<g id="legend">
<rect x="89.4" y="13.4" width="32.1" height="11.1" fill="#abc9ea" stroke="#737373" stroke-width="1"/>
<rect x="89.4" y="36.9" width="32.1" height="11.1" fill="#efb792" stroke="#737373" stroke-width="1"/>
<text class="l" style="font-size:16px" x="134.3" y="24.8">Root mean square</text>
<text class="l" style="font-size:16px" x="134.3" y="48.3">Strehl ratio</text>
</g>
</svg></body></html>
